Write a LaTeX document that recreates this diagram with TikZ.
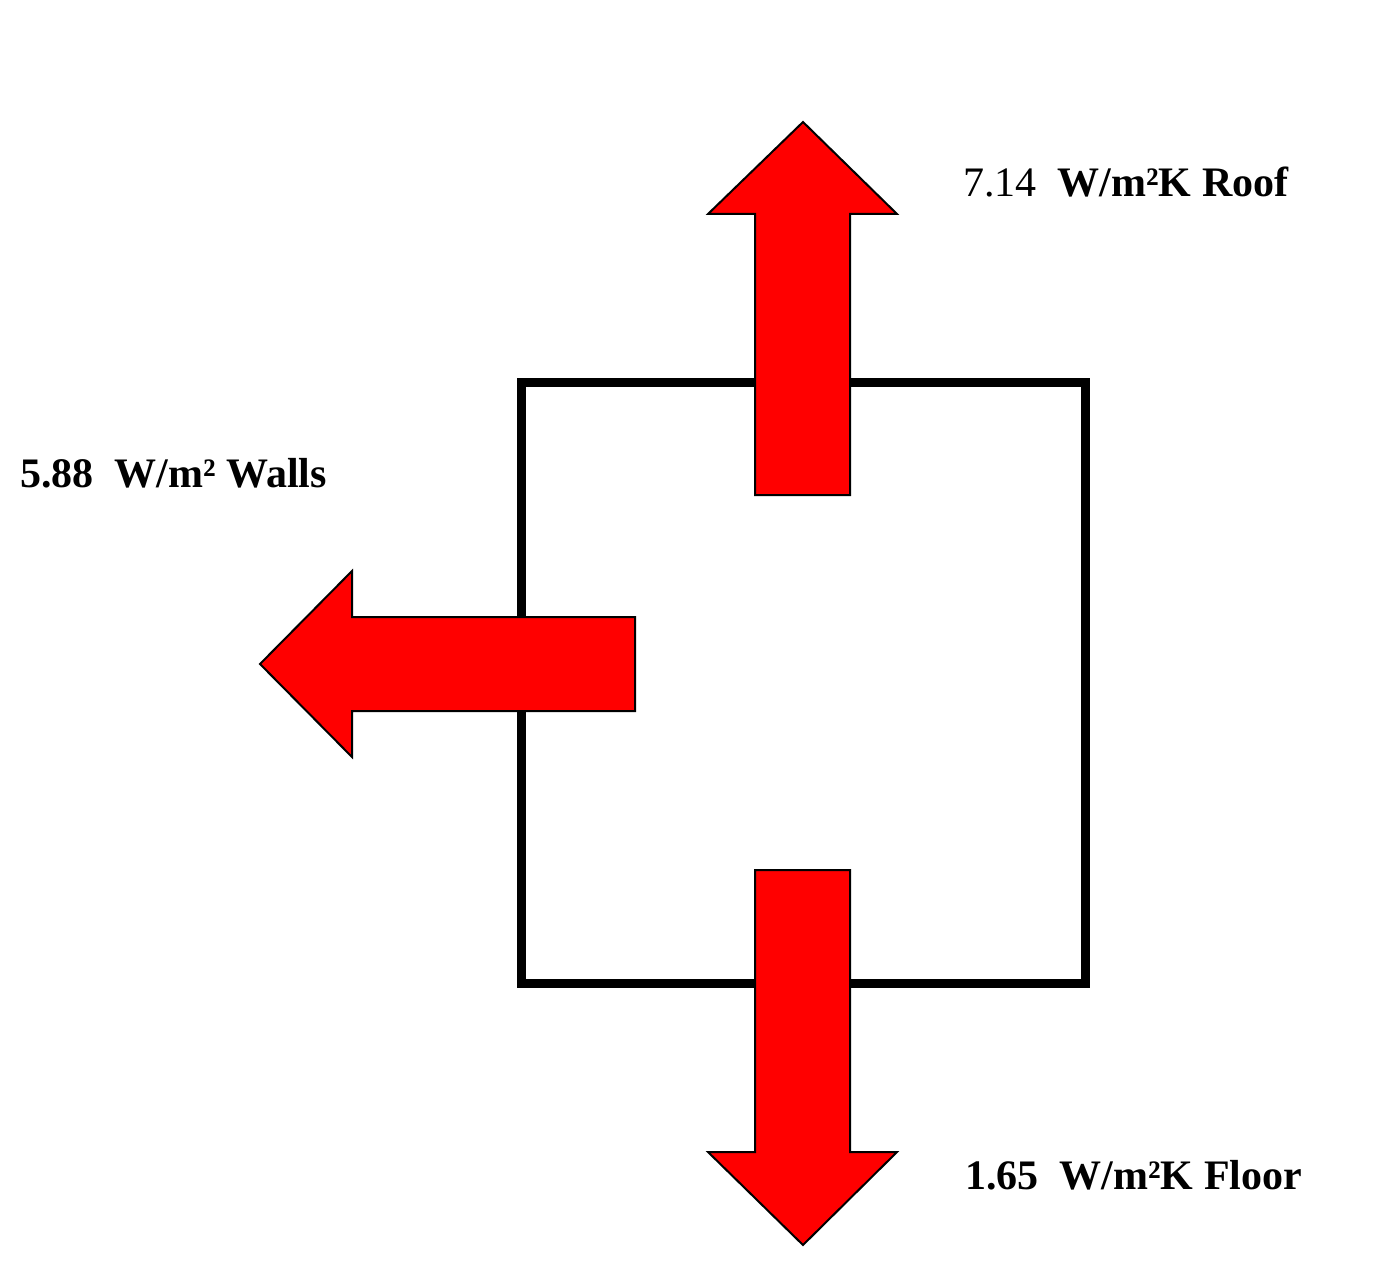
\documentclass[tikz,border=0pt]{standalone}
\usepackage{fontspec}
\setmainfont{Liberation Serif}
\begin{document}
\begin{tikzpicture}[x=1pt,y=-1pt,
  arr/.style={fill=red,draw=black,line width=2pt,line join=miter},
  lab/.style={font=\fontsize{42}{48}\selectfont,inner sep=0pt}]
\useasboundingbox (0,0) rectangle (1387,1284);
\node[draw=black,line width=9pt,minimum width=564pt,minimum height=601pt,inner sep=0pt] (room) at (803,682.5) {};
\draw[arr] (755,495) -- (755,214) -- (708,214) -- (803,122) -- (897,214) -- (850,214) -- (850,495) -- cycle;
\draw[arr] (755,870) -- (755,1152) -- (708,1152) -- (803,1245) -- (897,1152) -- (850,1152) -- (850,870) -- cycle;
\draw[arr] (635,617) -- (352,617) -- (352,571) -- (260,664) -- (352,757) -- (352,711) -- (635,711) -- cycle;
\node[lab,anchor=west] (roof) at (963,182) {7.14\ \ \textbf{W/m²K Roof}};
\node[lab,anchor=east] (walls) at (327,473) {\textbf{5.88\ \ W/m² Walls}};
\node[lab,anchor=west] (floor) at (965,1175) {\textbf{1.65\ \ W/m²K Floor}};
\end{tikzpicture}
\end{document}
